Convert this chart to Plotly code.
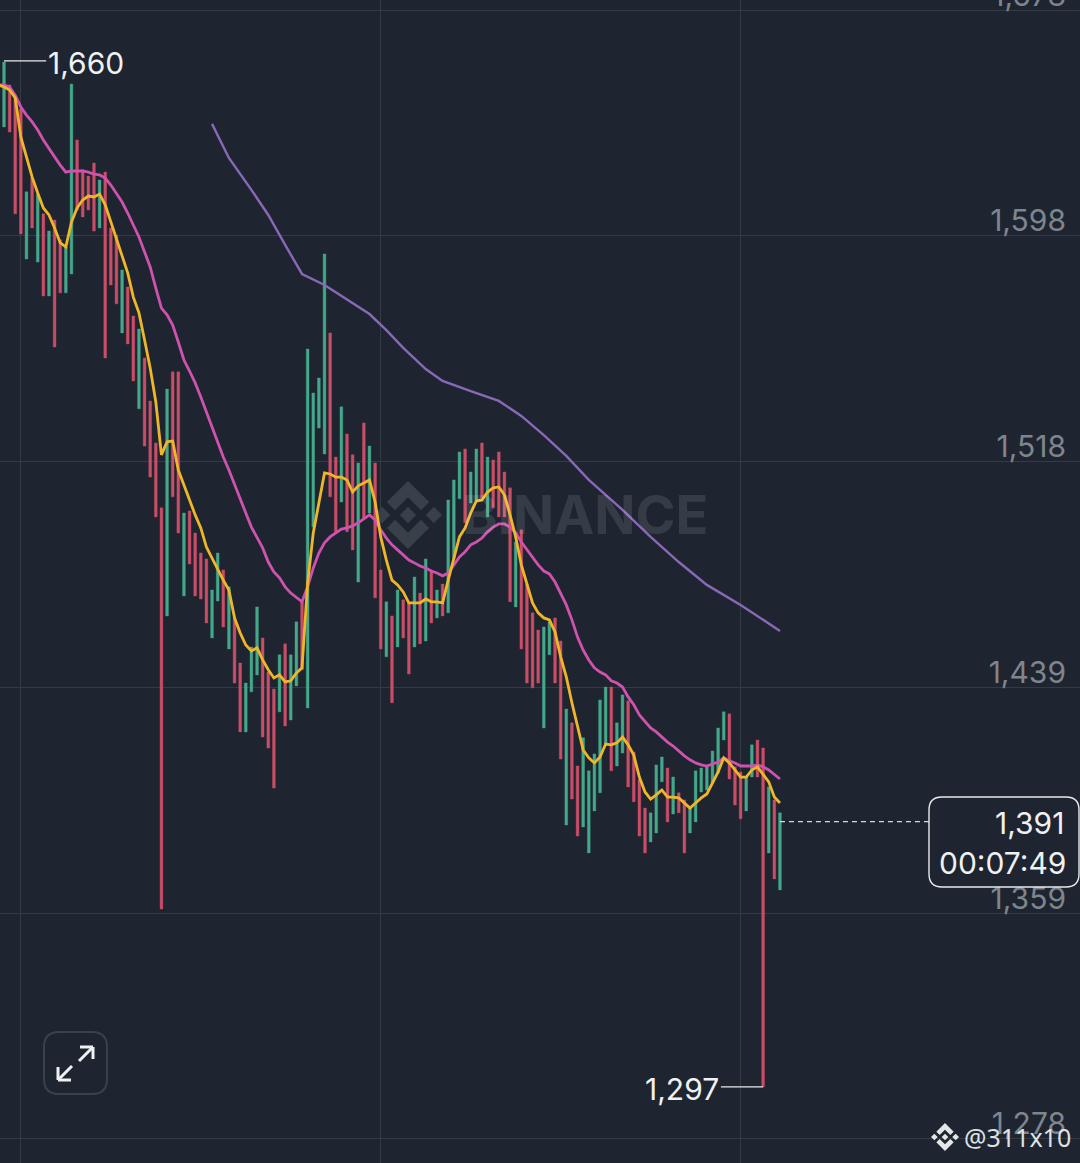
import plotly.graph_objects as go

highs = [1659.6,1651.5,1646.9,1643.0,1613.6,1618.5,1612.8,1605.8,1599.7,1603.6,1596.6,1594.1,1651.8,1632.0,1621.4,1619.2,1623.8,1617.8,1620.6,1600.8,
1598.3,1585.9,1579.9,1569.6,1565.0,1554.7,1539.5,1524.6,1501.6,1543.7,1549.8,1549.8,1499.8,1500.5,1492.7,1485.6,1483.5,1472.5,1485.6,1479.6,
1473.6,1462.9,1446.6,1439.5,1452.3,1466.5,1455.5,1443.4,1437.4,1449.5,1453.4,1449.5,1461.2,1468.3,1557.9,1542.3,1547.6,1591.6,1563.6,1519.6,
1537.4,1527.8,1520.4,1517.5,1531.7,1523.5,1517.5,1479.6,1468.3,1463.3,1472.5,1469.0,1467.9,1477.1,1471.4,1483.5,1478.9,1472.5,1474.6,1504.4,
1511.5,1521.4,1522.5,1514.3,1522.5,1524.6,1519.6,1518.6,1521.4,1514.3,1508.7,1489.5,1493.8,1474.6,1464.4,1458.3,1459.4,1461.2,1462.6,1454.4,
1430.3,1425.4,1410.1,1420.1,1408.4,1414.4,1433.5,1438.1,1438.1,1425.4,1435.3,1433.2,1415.1,1405.2,1395.2,1393.5,1410.5,1413.3,1409.4,1406.2,
1400.6,1398.1,1395.2,1408.4,1409.4,1409.8,1415.4,1423.6,1429.3,1428.6,1409.8,1408.0,1406.2,1417.6,1419.3,1416.5,1402.7,1398.1,1393.5]
lows = [1636.6,1634.8,1605.8,1598.7,1589.8,1600.8,1588.7,1576.7,1576.7,1558.6,1577.8,1577.8,1584.5,1607.2,1604.7,1607.2,1599.7,1600.8,1554.7,1580.6,
1573.9,1563.6,1559.7,1546.6,1536.7,1523.5,1512.5,1498.4,1359.4,1463.3,1505.5,1492.7,1470.4,1481.7,1470.4,1469.3,1460.8,1455.5,1468.6,1459.4,
1451.6,1439.5,1422.2,1422.2,1436.4,1442.4,1420.4,1416.5,1402.3,1429.3,1424.3,1426.4,1438.5,1444.2,1430.7,1494.8,1529.9,1520.7,1505.5,1493.1,
1503.7,1493.1,1486.7,1475.3,1498.0,1499.8,1469.7,1451.6,1448.8,1432.5,1452.3,1455.5,1442.7,1452.3,1453.4,1454.4,1460.8,1462.6,1463.3,1464.4,
1483.8,1504.8,1496.3,1503.3,1504.4,1505.1,1498.4,1501.6,1498.4,1498.4,1468.3,1466.5,1451.6,1439.5,1437.8,1439.5,1423.6,1449.5,1439.5,1412.6,
1389.2,1398.4,1385.3,1388.5,1379.3,1394.2,1400.6,1417.9,1408.4,1410.1,1414.7,1402.7,1397.4,1385.3,1379.3,1383.2,1386.4,1404.5,1390.3,1393.1,
1393.5,1379.3,1386.4,1390.3,1400.9,1401.6,1404.1,1407.6,1419.3,1405.5,1396.3,1391.4,1394.2,1406.2,1406.2,1296.4,1379.3,1370.1,1366.2]
directions = ("GRRRGRGRGRRGGRRRRGRRRGRRGRRRRGRRGRRRRGGRGRRGGGRRRGRGGRGGGGRRGRRGRGRRGRGRRGRGRGRGGGRGGRGRRRRGRRRRGGRRGRRGGGGGRGGRRRRGGGRGRRGGGGGGGRRRGGRRGRG")

ma7 = [1651.5,1650.8,1649.7,1646.9,1633.0,1626.0,1618.9,1613.2,1607.9,1605.4,1600.8,1595.5,1594.1,1602.9,1607.9,1610.7,1612.1,1611.8,1612.8,1609.0,
1602.9,1596.6,1590.5,1584.9,1576.3,1570.7,1561.1,1551.2,1539.1,1520.4,1525.0,1525.3,1515.0,1509.7,1503.7,1499.1,1494.5,1487.7,1483.8,1479.6,
1476.0,1472.5,1462.6,1457.3,1453.0,1450.9,1452.0,1447.7,1444.2,1441.3,1442.4,1439.9,1440.3,1443.1,1444.9,1475.0,1492.7,1503.3,1514.0,1513.6,
1512.5,1512.5,1511.5,1507.2,1509.4,1510.4,1511.5,1503.7,1491.3,1483.1,1476.0,1474.3,1471.8,1467.9,1467.9,1467.9,1469.3,1468.3,1468.3,1467.9,
1476.0,1484.2,1491.3,1494.5,1499.8,1504.0,1504.4,1507.2,1508.7,1509.0,1506.2,1499.1,1491.3,1481.4,1475.0,1467.9,1464.4,1462.6,1461.9,1457.6,
1448.8,1441.7,1432.5,1423.6,1415.8,1413.0,1411.2,1413.3,1417.9,1417.6,1418.3,1420.4,1417.6,1414.0,1406.2,1400.9,1398.4,1399.9,1401.6,1399.1,
1399.1,1398.8,1397.0,1395.2,1397.0,1398.8,1400.2,1404.1,1408.0,1413.0,1411.2,1408.7,1406.2,1406.2,1408.7,1409.8,1407.0,1404.5,1399.1,1397.0]
ma25 = [1651.5,1651.5,1650.8,1647.9,1643.7,1640.8,1638.4,1635.5,1632.0,1629.2,1626.0,1623.1,1620.6,1621.0,1621.0,1621.0,1620.6,1619.9,1619.6,1618.5,
1616.0,1613.2,1610.0,1606.1,1601.9,1597.6,1592.3,1587.0,1579.5,1572.4,1570.0,1566.4,1560.4,1554.0,1550.1,1545.9,1540.9,1535.6,1529.9,1524.6,
1519.6,1515.0,1509.7,1504.4,1499.8,1494.8,1491.3,1487.4,1482.4,1478.9,1476.8,1473.6,1471.4,1470.0,1468.3,1473.6,1480.3,1485.6,1489.2,1491.3,
1492.7,1494.1,1494.5,1495.2,1496.3,1497.7,1499.1,1497.3,1493.8,1490.9,1488.5,1486.7,1484.9,1483.1,1482.1,1481.0,1480.3,1479.2,1478.5,1477.5,
1478.5,1481.4,1484.2,1486.0,1488.5,1489.5,1490.9,1493.1,1494.8,1495.9,1495.9,1494.8,1492.7,1489.5,1486.7,1483.8,1481.4,1479.2,1478.2,1475.3,
1471.4,1467.2,1461.9,1455.8,1451.2,1447.7,1444.9,1443.4,1442.4,1440.3,1439.5,1438.1,1434.6,1431.8,1428.2,1425.7,1423.6,1422.2,1420.4,1418.6,
1417.2,1415.4,1413.7,1412.3,1411.2,1410.5,1410.1,1410.8,1411.5,1413.0,1411.9,1411.2,1410.1,1410.1,1410.1,1410.5,1409.8,1408.7,1407.0,1405.5]
ma99_x = [37,40,44,47,50,53,57,61,65,68,71,75,78,83,88,92,96,100,104,110,115,120,125,131,135,138]
ma99 = [1637.7,1625.6,1614.3,1605.4,1594.8,1584.5,1580.6,1575.3,1570.3,1564.6,1558.3,1550.8,1546.6,1543.0,1539.5,1534.2,1527.4,1520.0,1511.5,1500.9,1491.3,1482.4,1474.3,1467.2,1461.9,1458.0]

tick_values = [1678, 1598, 1518, 1438, 1358, 1278]
tick_labels = ["1,678", "1,598", "1,518", "1,439", "1,359", "1,278"]
time_ticks = [3, 67, 131]
max_price, min_price, last_price = 1660, 1296.4, 1390.4

BG = "#1e2530"; GRID = "#343b45"; UP = "#45A88A"; DOWN = "#C94E68"
W, H = 1080, 1163
index = list(range(len(highs)))
opens = [l if d == "G" else h for h, l, d in zip(highs, lows, directions)]
closes = [h if d == "G" else l for h, l, d in zip(highs, lows, directions)]

fig = go.Figure()
fig.add_trace(go.Candlestick(x=index, open=opens, high=highs, low=lows, close=closes,
    increasing=dict(line=dict(color=UP, width=0.4), fillcolor=UP),
    decreasing=dict(line=dict(color=DOWN, width=0.4), fillcolor=DOWN),
    hoverinfo="skip", showlegend=False))
line_x = list(range(-1, len(highs)))
fig.add_trace(go.Scatter(x=ma99_x, y=ma99, mode="lines", line=dict(color="#8A68B8", width=2.4), showlegend=False))
fig.add_trace(go.Scatter(x=line_x, y=ma25, mode="lines", line=dict(color="#CF52AE", width=2.8), showlegend=False))
fig.add_trace(go.Scatter(x=line_x, y=ma7, mode="lines", line=dict(color="#EFB629", width=2.8), showlegend=False))

def px(x): return x / W
def py(y): return 1 - y / H
def path(pts):
    return "M" + " L".join(f"{px(x):.5f},{py(y):.5f}" for x, y in pts) + " Z"
def logo(cx, cy, s, color, layer):
    polys = [
        [(0,-1),(.62,-.38),(.38,-.14),(0,-.52),(-.38,-.14),(-.62,-.38)],
        [(0,1),(.62,.38),(.38,.14),(0,.52),(-.38,.14),(-.62,.38)],
        [(0,-.24),(.24,0),(0,.24),(-.24,0)],
        [(.76,-.24),(1,0),(.76,.24),(.52,0)],
        [(-.76,-.24),(-.52,0),(-.76,.24),(-1,0)],
    ]
    return [dict(type="path", xref="paper", yref="paper", layer=layer, line=dict(width=0), fillcolor=color,
                 path=path([(cx + a * s, cy + b * s) for a, b in p])) for p in polys]
def rrect(x0, y0, x1, y1, r):
    X = lambda v: f"{px(v):.5f}"; Y = lambda v: f"{py(v):.5f}"
    return (f"M{X(x0+r)},{Y(y0)} L{X(x1-r)},{Y(y0)} Q{X(x1)},{Y(y0)} {X(x1)},{Y(y0+r)} "
            f"L{X(x1)},{Y(y1-r)} Q{X(x1)},{Y(y1)} {X(x1-r)},{Y(y1)} L{X(x0+r)},{Y(y1)} "
            f"Q{X(x0)},{Y(y1)} {X(x0)},{Y(y1-r)} L{X(x0)},{Y(y0+r)} Q{X(x0)},{Y(y0)} {X(x0+r)},{Y(y0)} Z")
def seg(x0, y0, x1, y1, color, w):
    return dict(type="line", xref="paper", yref="paper", x0=px(x0), y0=py(y0), x1=px(x1), y1=py(y1),
                line=dict(color=color, width=w))

shapes = logo(408, 515, 34, "#3a4049", "below") + logo(945, 1137, 14, "#e4e6e8", "above")
shapes += [
    dict(type="line", xref="x", yref="y", x0=0, x1=7.5, y0=max_price, y1=max_price, line=dict(color="#e8eaec", width=1.3)),
    dict(type="line", xref="x", yref="y", x0=127.5, x1=135, y0=min_price, y1=min_price, line=dict(color="#e8eaec", width=1.3)),
    dict(type="line", xref="x", yref="y", x0=138, x1=164.6, y0=last_price, y1=last_price, line=dict(color="#d5d8dc", width=1.3, dash="5px,4px")),
    dict(type="path", xref="paper", yref="paper", path=rrect(929, 797, 1079, 887, 13), fillcolor=BG, line=dict(color="#e8eaec", width=1.4)),
    dict(type="path", xref="paper", yref="paper", path=rrect(44, 1032, 107, 1094, 15), fillcolor=BG, line=dict(color="#3a414b", width=2)),
    seg(80, 1047, 93, 1047, "#eef0f2", 3), seg(93, 1047, 93, 1059, "#eef0f2", 3), seg(93, 1047, 79, 1061, "#eef0f2", 3),
    seg(58, 1067, 58, 1080, "#eef0f2", 3), seg(58, 1080, 71, 1080, "#eef0f2", 3), seg(58, 1080, 72, 1066, "#eef0f2", 3),
]

def note(x, y, text, size, color, anchor, xref="paper", yref="paper", family="Inter", **kw):
    return dict(x=x, y=y, xref=xref, yref=yref, text=text, showarrow=False, xanchor=anchor, yanchor="middle",
                font=dict(family=family, size=size, color=color), **kw)
TEXT_SIZE = 30
annotations = [
    note(7.4, max_price - 0.6, "1,660", TEXT_SIZE, "#f0f1f3", "left", "x", "y"),
    note(127.6, min_price - 0.6, "1,297", TEXT_SIZE, "#f0f1f3", "right", "x", "y"),
    note(px(1066), py(823), "1,391", TEXT_SIZE, "#f0f1f3", "right"),
    note(px(1068), py(863), "00:07:49", TEXT_SIZE, "#f0f1f3", "right"),
    note(px(585), py(515), "<b>BINANCE</b>", 54, "rgba(255,255,255,0.11)", "center"),
    note(px(962), py(1137), "@311x10", 25, "#dfe1e4", "left", family="Noto Sans"),
]

fig.update_layout(width=W, height=H, margin=dict(l=0, r=0, t=0, b=0, pad=0), paper_bgcolor=BG, plot_bgcolor=BG,
    showlegend=False, shapes=shapes, annotations=annotations, hovermode=False,
    xaxis=dict(range=[-0.711, 191.36], tickmode="array", tickvals=time_ticks, showticklabels=False, ticks="",
               showgrid=True, gridcolor=GRID, gridwidth=1.2, zeroline=False, showline=False, rangeslider=dict(visible=False), automargin=False),
    yaxis=dict(range=[1269.4, 1681.6], side="right", tickmode="array", tickvals=tick_values, ticktext=tick_labels, automargin=False,
               ticklabelposition="inside top", ticklabelstandoff=11, ticklabelshift=6, ticklabeloverflow="allow", ticks="",
               tickfont=dict(family="Inter", size=TEXT_SIZE, color="#7f858d"),
               showgrid=True, gridcolor=GRID, gridwidth=1.2, zeroline=False, showline=False))
fig.write_html("out.html", config=dict(displayModeBar=False),
               post_script="document.body.style.margin='0';document.documentElement.style.background='#1e2530';document.body.style.background='#1e2530';")
